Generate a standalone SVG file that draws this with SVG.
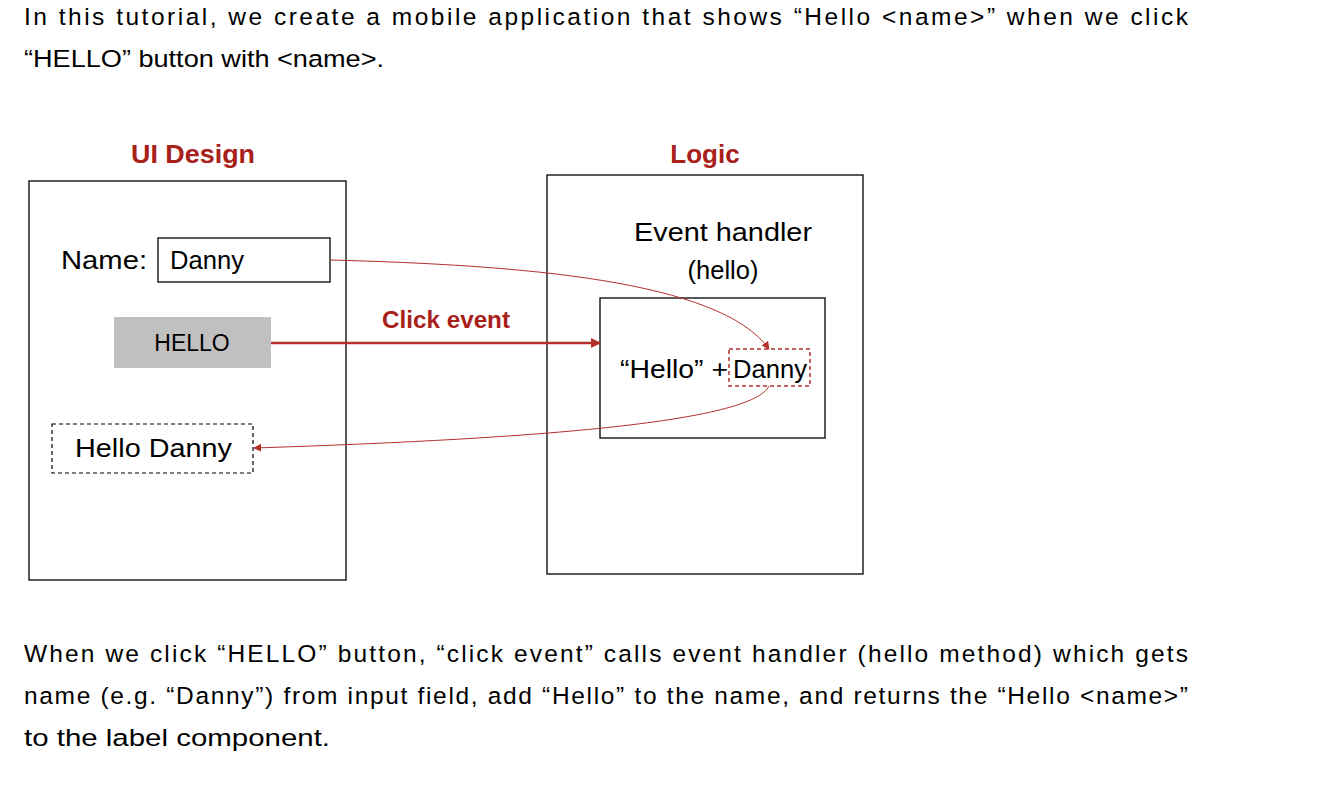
<svg xmlns="http://www.w3.org/2000/svg" width="1322" height="806" viewBox="0 0 1322 806">
<style>
text{font-family:"Liberation Sans",Arial,sans-serif;fill:#000}
.p{font-size:24.5px}
.t{font-size:26px;font-weight:bold;fill:#a8201a}
.ce{font-size:24px;font-weight:bold;fill:#a8201a}
.n{font-size:25.5px}
.box{fill:#fff;stroke:#000;stroke-width:1.3}
.c{fill:none;stroke:#b3302a;stroke-width:1}
</style>
<defs>
<marker id="a" viewBox="0 0 10 10" refX="9" refY="5" markerWidth="8" markerHeight="8" orient="auto" markerUnits="userSpaceOnUse"><path d="M0,0L10,5L0,10z" fill="#b3302a"/></marker>
<marker id="b" viewBox="0 0 10 10" refX="9" refY="5" markerWidth="10" markerHeight="10" orient="auto" markerUnits="userSpaceOnUse"><path d="M0,0L10,5L0,10z" fill="#b3302a"/></marker>
</defs>
<rect width="1322" height="806" fill="#fff"/>
<text class="p" x="24" y="25" textLength="1164" lengthAdjust="spacing">In this tutorial, we create a mobile application that shows “Hello &lt;name&gt;” when we click</text>
<text class="p" x="24" y="67" textLength="360" lengthAdjust="spacingAndGlyphs">“HELLO” button with &lt;name&gt;.</text>
<text class="t" x="193" y="163" text-anchor="middle" textLength="124" lengthAdjust="spacingAndGlyphs">UI Design</text>
<text class="t" x="705" y="163" text-anchor="middle">Logic</text>
<g id="ui"><rect class="box" x="29" y="181" width="317" height="399"/></g>
<g id="logic"><rect class="box" x="547" y="175" width="316" height="399"/>
<text class="n" x="723" y="241" text-anchor="middle" textLength="178" lengthAdjust="spacingAndGlyphs">Event handler</text>
<text class="n" x="723" y="279" text-anchor="middle">(hello)</text></g>
<g id="name"><text class="n" x="61" y="269" textLength="86" lengthAdjust="spacingAndGlyphs">Name:</text>
<rect class="box" x="158" y="238" width="172" height="44"/>
<text class="n" x="170" y="269" textLength="74" lengthAdjust="spacingAndGlyphs">Danny</text></g>
<g id="hello-btn"><rect x="114" y="317" width="157" height="51" fill="#c0c0c0"/>
<text x="192" y="351" text-anchor="middle" font-size="23">HELLO</text></g>
<g id="label"><rect x="52" y="424" width="201" height="49" fill="#fff" stroke="#000" stroke-width="1.2" stroke-dasharray="4 3"/>
<text class="n" x="75" y="457" textLength="157" lengthAdjust="spacingAndGlyphs">Hello Danny</text></g>
<g id="handler"><rect class="box" x="600" y="298" width="225" height="140"/>
<text class="n" x="620" y="378" textLength="108" lengthAdjust="spacingAndGlyphs">“Hello” +</text>
<rect x="729" y="349" width="81" height="37" fill="none" stroke="#b3302a" stroke-width="1.5" stroke-dasharray="4 3"/>
<text class="n" x="733" y="378" textLength="74" lengthAdjust="spacingAndGlyphs">Danny</text></g>
<g id="connectors">
<path d="M271,343H600" stroke="#b3302a" stroke-width="2.5" fill="none" marker-end="url(#b)"/>
<path class="c" d="M330,260C520,265 720,280 769,349" marker-end="url(#a)"/>
<path class="c" d="M769,386C750,425 500,440 254,448" marker-end="url(#a)"/>
<text class="ce" x="446" y="328" text-anchor="middle" textLength="128" lengthAdjust="spacingAndGlyphs">Click event</text>
</g>
<text class="p" x="24" y="662" textLength="1164" lengthAdjust="spacing">When we click “HELLO” button, “click event” calls event handler (hello method) which gets</text>
<text class="p" x="24" y="704" textLength="1164" lengthAdjust="spacing">name (e.g. “Danny”) from input field, add “Hello” to the name, and returns the “Hello &lt;name&gt;”</text>
<text class="p" x="24" y="746" textLength="306" lengthAdjust="spacingAndGlyphs">to the label component.</text>
</svg>
